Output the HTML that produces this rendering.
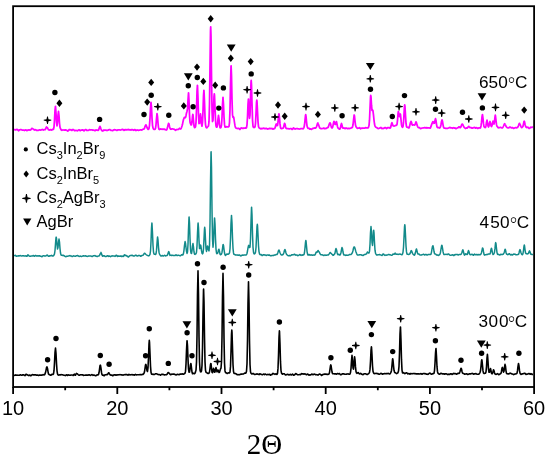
<!DOCTYPE html>
<html><head><meta charset="utf-8"><title>XRD</title>
<style>
html,body{margin:0;padding:0;background:#fff;}
body{width:550px;height:462px;overflow:hidden;}
svg{display:block;}
.s{font-family:"Liberation Sans",Arial,sans-serif;}
.r{font-family:"Liberation Serif","Times New Roman",serif;}
</style></head><body>
<svg width="550" height="462" viewBox="0 0 550 462">
<rect width="550" height="462" fill="#fff"/>
<polyline points="14.0,130.2 14.5,129.6 15.0,129.7 15.5,129.8 16.0,129.8 16.5,129.6 17.0,129.4 17.5,129.5 18.0,130.2 18.5,130.8 19.0,130.5 19.5,129.9 20.0,129.8 20.5,129.6 21.0,129.6 21.5,129.8 22.0,130.1 22.5,130.1 23.0,130.2 23.5,130.1 24.0,130.2 24.5,130.5 25.0,130.3 25.5,129.9 26.0,130.0 26.5,130.4 27.0,130.6 27.5,130.2 28.0,130.0 28.5,130.1 29.0,129.8 29.5,129.9 30.0,130.2 30.5,130.0 31.0,129.6 31.5,128.8 32.0,128.3 32.5,128.8 33.0,129.0 33.5,129.1 34.0,129.8 34.5,130.1 35.0,129.8 35.5,129.7 36.0,129.9 36.5,130.2 37.0,130.5 37.5,130.4 38.0,130.3 38.5,130.3 39.0,130.0 39.5,129.8 40.0,130.1 40.5,130.2 41.0,129.9 41.5,129.8 42.0,129.6 42.5,129.5 43.0,129.9 43.5,130.0 44.0,129.6 44.5,129.6 45.0,129.7 45.5,129.3 46.0,128.0 46.5,127.0 46.8,127.4 47.0,127.4 47.5,127.8 48.0,128.9 48.5,129.7 49.0,130.0 49.5,130.1 50.0,129.8 50.5,129.7 51.0,129.8 51.5,130.1 52.0,129.9 52.5,129.3 53.0,129.2 53.5,129.3 54.0,127.0 54.5,120.1 55.0,110.5 55.4,106.5 55.5,106.4 56.0,113.1 56.5,122.3 57.0,125.9 57.5,122.4 58.0,115.2 58.5,111.4 59.0,115.9 59.5,123.3 60.0,127.3 60.5,128.7 61.0,129.6 61.5,130.2 62.0,130.3 62.5,130.0 63.0,129.9 63.5,130.0 64.0,130.1 64.5,130.1 65.0,129.9 65.5,129.9 66.0,130.1 66.5,130.2 67.0,130.5 67.5,131.0 68.0,131.0 68.5,130.4 69.0,129.7 69.5,129.6 70.0,129.9 70.5,129.8 71.0,129.7 71.5,130.3 72.0,130.4 72.5,129.8 73.0,129.5 73.5,129.8 74.0,130.1 74.5,130.6 75.0,130.7 75.5,130.5 76.0,130.3 76.5,130.5 77.0,130.7 77.5,130.8 78.0,130.5 78.5,130.0 79.0,129.8 79.5,130.1 80.0,130.5 80.5,130.5 81.0,130.1 81.5,130.0 82.0,130.1 82.5,129.9 83.0,129.9 83.5,130.5 84.0,130.9 84.5,130.3 85.0,129.8 85.5,129.6 86.0,129.7 86.5,130.2 87.0,130.5 87.5,130.3 88.0,130.3 88.5,130.3 89.0,130.0 89.5,129.7 90.0,129.8 90.5,130.0 91.0,129.9 91.5,129.8 92.0,129.8 92.5,130.1 93.0,130.3 93.5,130.1 94.0,130.2 94.5,130.4 95.0,130.7 95.5,130.4 96.0,129.9 96.5,130.0 97.0,130.1 97.5,130.2 98.0,130.4 98.5,130.2 99.0,128.9 99.5,127.3 99.9,126.7 100.0,126.4 100.5,127.5 101.0,129.1 101.5,130.1 102.0,130.7 102.5,131.0 103.0,130.9 103.5,130.4 104.0,130.0 104.5,130.2 105.0,130.3 105.5,130.1 106.0,130.1 106.5,130.4 107.0,130.5 107.5,130.3 108.0,130.2 108.5,129.9 109.0,129.7 109.5,129.6 110.0,129.7 110.5,130.1 111.0,130.4 111.5,130.4 112.0,130.5 112.5,130.7 113.0,130.4 113.5,130.1 114.0,129.8 114.5,129.7 115.0,129.8 115.5,129.8 116.0,130.0 116.5,130.3 117.0,130.4 117.5,130.1 118.0,129.9 118.5,129.9 119.0,129.9 119.5,129.9 120.0,130.0 120.5,130.0 121.0,129.8 121.5,129.7 122.0,129.6 122.5,129.4 123.0,129.5 123.5,129.8 124.0,130.3 124.5,130.2 125.0,129.6 125.5,129.7 126.0,129.8 126.5,129.7 127.0,129.9 127.5,129.7 128.0,129.4 128.5,129.6 129.0,129.9 129.5,129.8 130.0,129.7 130.5,130.0 131.0,130.1 131.5,129.6 132.0,129.6 132.5,129.7 133.0,130.0 133.5,130.3 134.0,130.1 134.5,129.5 135.0,129.5 135.5,130.1 136.0,130.5 136.5,130.2 137.0,129.9 137.5,130.0 138.0,130.2 138.5,130.4 139.0,130.1 139.5,130.0 140.0,130.0 140.5,129.8 141.0,129.8 141.5,130.1 142.0,129.9 142.5,129.6 143.0,129.3 143.5,129.1 144.0,129.0 144.5,128.2 145.0,126.6 145.5,125.4 145.8,124.9 146.0,124.9 146.5,126.0 147.0,127.5 147.5,128.5 148.0,129.3 148.5,129.4 149.0,128.4 149.5,125.3 150.0,118.3 150.5,108.1 151.0,102.3 151.5,107.4 152.0,118.0 152.5,125.3 153.0,127.9 153.5,129.0 154.0,129.4 154.5,129.3 155.0,129.4 155.5,128.4 156.0,124.8 156.5,118.5 157.0,113.6 157.1,113.8 157.5,116.6 158.0,123.0 158.5,127.6 159.0,129.3 159.5,129.6 160.0,129.3 160.5,128.8 161.0,129.1 161.5,129.3 162.0,129.1 162.5,129.1 163.0,129.4 163.5,129.2 164.0,128.9 164.5,129.2 165.0,129.6 165.5,129.6 166.0,129.9 166.5,130.0 167.0,129.2 167.5,127.6 168.0,125.2 168.5,123.4 168.7,123.5 169.0,124.0 169.5,126.4 170.0,128.3 170.5,129.1 171.0,129.3 171.5,129.1 172.0,128.8 172.5,128.8 173.0,129.0 173.5,129.0 174.0,129.1 174.5,129.5 175.0,129.9 175.5,130.3 176.0,130.0 176.5,129.5 177.0,129.6 177.5,129.5 178.0,129.3 178.5,129.4 179.0,128.8 179.5,128.3 180.0,128.8 180.5,129.0 181.0,128.7 181.5,127.5 182.0,126.0 182.5,124.3 183.0,121.7 183.5,119.5 184.0,118.2 184.3,117.6 184.5,117.3 185.0,117.8 185.5,117.6 186.0,115.7 186.5,113.0 187.0,111.4 187.5,108.9 188.0,100.2 188.5,92.8 188.6,93.2 189.0,100.5 189.5,114.8 190.0,122.1 190.4,123.6 190.5,123.6 191.0,124.8 191.5,124.8 192.0,121.5 192.5,116.2 192.8,114.4 193.0,114.7 193.5,120.5 194.0,125.9 194.5,127.6 195.0,127.5 195.5,126.8 196.0,122.5 196.5,109.7 197.0,91.8 197.4,85.3 197.5,85.7 198.0,98.3 198.5,115.2 199.0,123.6 199.5,123.3 200.0,117.5 200.5,113.9 201.0,117.9 201.5,124.1 202.0,126.2 202.5,122.4 203.0,111.1 203.5,95.9 203.9,90.4 204.0,90.7 204.5,102.1 205.0,116.9 205.5,124.6 206.0,127.0 206.5,127.8 207.0,127.7 207.5,127.0 208.0,126.5 208.5,125.9 209.0,121.7 209.5,104.3 210.0,66.7 210.5,30.8 210.7,26.9 211.0,35.8 211.5,75.6 212.0,109.1 212.5,121.5 213.0,120.1 213.5,109.5 214.0,96.6 214.3,93.9 214.5,95.2 215.0,107.0 215.5,119.9 216.0,126.0 216.5,127.2 217.0,127.0 217.5,124.6 218.0,118.9 218.5,115.3 219.0,118.8 219.5,124.8 220.0,127.6 220.5,127.8 221.0,127.3 221.5,125.0 222.0,117.5 222.5,104.5 223.0,97.4 223.5,104.5 224.0,116.9 224.5,124.4 225.0,127.0 225.5,127.2 226.0,126.9 226.5,126.7 227.0,126.7 227.5,126.9 228.0,126.8 228.5,126.8 229.0,126.4 229.5,122.6 230.0,109.5 230.5,85.1 231.0,66.6 231.1,65.9 231.5,75.2 232.0,99.6 232.5,114.8 233.0,117.4 233.5,116.8 233.6,117.3 234.0,119.0 234.5,122.6 235.0,125.7 235.5,127.4 236.0,128.1 236.5,128.3 237.0,128.5 237.5,128.5 238.0,128.3 238.5,128.3 239.0,128.6 239.5,129.3 240.0,129.4 240.5,128.8 241.0,128.1 241.5,127.9 242.0,128.2 242.5,128.3 243.0,128.2 243.5,128.3 244.0,128.0 244.5,128.0 245.0,128.1 245.5,127.9 246.0,128.2 246.5,127.7 247.0,124.8 247.5,117.0 248.0,104.4 248.4,99.0 248.5,99.0 249.0,108.6 249.5,118.3 250.0,115.2 250.5,98.8 251.0,82.0 251.2,80.3 251.5,84.7 252.0,103.5 252.5,119.6 253.0,126.2 253.5,127.4 254.0,127.4 254.5,127.5 255.0,127.0 255.5,123.3 256.0,113.7 256.5,102.4 256.8,100.1 257.0,101.4 257.5,111.3 258.0,121.6 258.5,126.5 259.0,127.8 259.5,128.1 260.0,128.3 260.5,128.7 261.0,128.9 261.5,128.6 262.0,128.4 262.5,128.6 263.0,128.5 263.5,128.2 264.0,128.2 264.5,128.6 265.0,128.7 265.5,128.6 266.0,128.4 266.5,128.4 267.0,128.8 267.5,129.1 268.0,128.9 268.5,128.8 269.0,128.6 269.5,128.4 270.0,128.4 270.5,128.6 271.0,128.7 271.5,128.5 272.0,128.4 272.5,129.0 273.0,129.2 273.5,128.8 274.0,128.6 274.5,128.6 275.0,128.0 275.5,126.3 276.0,124.5 276.3,124.0 276.5,124.2 277.0,125.6 277.5,125.5 278.0,122.1 278.5,116.3 278.9,113.8 279.0,113.8 279.5,118.1 280.0,123.9 280.5,127.5 281.0,128.5 281.5,128.6 282.0,128.6 282.5,128.3 283.0,128.2 283.5,127.6 284.0,125.5 284.5,123.4 285.0,124.0 285.5,126.5 286.0,128.2 286.5,128.5 287.0,128.5 287.5,128.6 288.0,128.5 288.5,128.7 289.0,128.9 289.5,128.9 290.0,128.7 290.5,128.6 291.0,128.6 291.5,128.8 292.0,129.3 292.5,129.4 293.0,128.5 293.5,127.9 294.0,128.3 294.5,128.8 295.0,129.1 295.5,129.0 296.0,128.5 296.5,128.5 297.0,128.7 297.5,128.7 298.0,128.8 298.5,128.8 299.0,128.9 299.5,129.0 300.0,129.0 300.5,128.8 301.0,128.5 301.5,128.5 302.0,128.6 302.5,128.7 303.0,128.8 303.5,128.3 304.0,127.3 304.5,125.0 305.0,120.1 305.5,115.3 305.7,114.7 306.0,116.2 306.5,121.6 307.0,125.8 307.5,127.5 308.0,128.3 308.5,128.4 309.0,128.2 309.5,128.8 310.0,129.2 310.5,128.9 311.0,129.0 311.5,129.4 312.0,129.1 312.5,128.4 313.0,128.4 313.5,128.4 314.0,128.1 314.5,127.9 315.0,128.2 315.5,128.2 316.0,127.7 316.5,126.8 317.0,125.2 317.5,123.5 317.9,122.9 318.0,123.3 318.5,124.5 319.0,126.0 319.5,127.5 320.0,128.2 320.5,128.4 321.0,128.6 321.5,128.6 322.0,128.6 322.5,128.5 323.0,128.4 323.5,128.1 324.0,128.2 324.5,128.7 325.0,128.7 325.5,128.4 326.0,128.4 326.5,128.3 327.0,127.9 327.5,127.7 328.0,127.5 328.5,126.5 329.0,124.9 329.5,123.5 330.0,122.8 330.5,123.7 331.0,125.7 331.5,127.4 332.0,128.0 332.5,127.5 333.0,125.6 333.5,122.8 334.0,121.3 334.5,122.4 335.0,124.4 335.5,124.4 336.0,122.6 336.3,121.7 336.5,121.6 337.0,124.1 337.5,126.7 338.0,128.0 338.5,128.4 339.0,128.8 339.5,129.2 340.0,128.9 340.5,127.7 341.0,125.0 341.5,123.5 342.0,125.3 342.5,127.5 343.0,128.1 343.5,128.0 344.0,127.9 344.5,128.2 345.0,128.6 345.5,128.4 346.0,128.0 346.5,128.0 347.0,128.4 347.5,128.7 348.0,128.7 348.5,128.3 349.0,128.3 349.5,128.6 350.0,128.5 350.5,128.3 351.0,128.1 351.5,127.6 352.0,127.6 352.5,127.1 353.0,124.8 353.5,120.4 354.0,116.0 354.2,115.0 354.5,116.1 355.0,121.0 355.5,125.1 356.0,126.8 356.5,127.4 357.0,128.1 357.5,128.4 358.0,128.0 358.5,128.0 359.0,128.1 359.5,127.7 360.0,128.0 360.5,128.8 361.0,128.5 361.5,128.1 362.0,128.1 362.5,128.3 363.0,128.1 363.5,128.1 364.0,128.1 364.5,128.0 365.0,128.0 365.5,127.7 366.0,127.7 366.5,127.9 367.0,127.9 367.5,128.0 368.0,127.9 368.5,127.3 369.0,125.6 369.5,120.2 370.0,108.8 370.5,97.2 370.7,95.4 371.0,96.8 371.5,105.2 372.0,110.3 372.5,110.4 372.8,110.2 373.0,111.1 373.5,115.2 374.0,120.1 374.5,124.0 375.0,126.1 375.5,126.9 376.0,127.2 376.5,127.5 377.0,127.8 377.5,128.2 378.0,128.5 378.5,128.5 379.0,128.3 379.5,128.2 380.0,127.9 380.5,127.6 381.0,127.5 381.5,128.1 382.0,128.7 382.5,128.4 383.0,128.3 383.5,128.5 384.0,128.2 384.5,127.8 385.0,127.6 385.5,127.7 386.0,128.2 386.5,128.6 387.0,128.2 387.5,127.7 388.0,127.8 388.5,127.7 389.0,127.6 389.5,127.9 390.0,128.1 390.5,127.6 391.0,126.1 391.5,123.7 392.0,122.7 392.5,124.2 393.0,125.6 393.5,126.0 394.0,126.1 394.5,126.0 395.0,125.7 395.5,125.4 396.0,125.3 396.5,125.3 397.0,124.3 397.5,120.3 398.0,114.0 398.4,111.5 398.5,111.9 399.0,114.8 399.5,116.6 400.0,114.7 400.3,114.0 400.5,114.6 401.0,119.7 401.5,124.7 402.0,126.7 402.5,127.3 403.0,126.5 403.5,122.7 404.0,114.3 404.5,105.9 404.7,104.9 405.0,106.7 405.5,115.5 406.0,123.2 406.5,126.5 407.0,127.2 407.5,127.3 408.0,127.4 408.5,127.8 409.0,127.8 409.5,126.6 410.0,124.5 410.5,122.5 410.8,121.9 411.0,121.3 411.5,122.4 412.0,124.5 412.5,125.2 413.0,125.0 413.3,124.8 413.5,124.8 414.0,125.0 414.5,125.1 415.0,124.7 415.5,123.2 416.0,121.9 416.5,122.9 417.0,124.9 417.5,126.3 418.0,127.2 418.5,127.6 419.0,127.6 419.5,127.7 420.0,128.2 420.5,128.6 421.0,128.6 421.5,128.3 422.0,128.1 422.5,128.0 423.0,127.9 423.5,127.9 424.0,127.9 424.5,127.6 425.0,127.6 425.5,127.9 426.0,128.0 426.5,127.6 427.0,127.7 427.5,128.0 428.0,127.9 428.5,127.8 429.0,127.8 429.5,128.0 430.0,128.2 430.5,127.8 431.0,126.4 431.5,124.9 432.0,123.7 432.5,122.3 432.9,121.7 433.0,121.6 433.5,122.2 434.0,123.3 434.5,123.1 435.0,120.5 435.5,118.6 436.0,120.5 436.5,124.3 437.0,126.8 437.5,127.6 438.0,127.6 438.5,127.5 439.0,127.7 439.5,128.0 440.0,127.7 440.5,126.7 441.0,124.5 441.5,121.5 442.0,119.9 442.5,121.3 443.0,124.6 443.5,127.2 444.0,128.1 444.5,128.1 445.0,128.2 445.5,128.3 446.0,128.3 446.5,128.3 447.0,128.4 447.5,128.4 448.0,128.2 448.5,128.0 449.0,127.9 449.5,127.5 450.0,127.4 450.5,127.8 451.0,127.9 451.5,127.8 452.0,128.0 452.5,128.3 453.0,128.0 453.5,127.7 454.0,128.0 454.5,128.1 455.0,127.9 455.5,128.3 456.0,128.7 456.5,128.5 457.0,128.0 457.5,127.9 458.0,127.8 458.5,127.2 459.0,126.8 459.5,127.1 460.0,127.6 460.5,127.7 461.0,126.7 461.5,125.1 462.0,124.2 462.3,124.3 462.5,124.2 463.0,125.0 463.5,126.2 464.0,127.2 464.5,127.7 465.0,128.0 465.5,128.5 466.0,128.3 466.5,127.9 467.0,128.1 467.5,127.9 468.0,127.1 468.5,126.5 468.8,126.4 469.0,126.6 469.5,127.0 470.0,127.6 470.5,127.7 471.0,127.6 471.5,127.8 472.0,128.2 472.5,128.1 473.0,127.9 473.5,127.7 474.0,127.7 474.5,127.4 475.0,127.6 475.5,128.1 476.0,128.0 476.5,127.7 477.0,127.8 477.5,128.3 478.0,128.4 478.5,128.0 479.0,127.8 479.5,127.8 480.0,128.1 480.5,127.7 481.0,125.9 481.5,122.2 482.0,116.8 482.4,114.6 482.5,114.6 483.0,118.3 483.5,123.7 484.0,126.6 484.5,127.3 485.0,127.4 485.5,127.5 486.0,125.7 486.5,122.1 487.0,120.2 487.5,122.6 488.0,125.9 488.5,127.0 489.0,125.9 489.5,123.1 490.0,121.5 490.5,123.2 491.0,125.8 491.5,126.6 492.0,125.5 492.5,123.2 493.0,121.1 493.5,122.4 494.0,124.0 494.5,121.6 495.0,116.9 495.3,115.2 495.5,116.0 496.0,120.7 496.5,124.7 497.0,126.2 497.5,126.8 498.0,127.7 498.5,127.8 499.0,127.5 499.5,127.5 500.0,127.5 500.5,127.3 501.0,127.5 501.5,127.8 502.0,128.0 502.5,127.9 503.0,127.1 503.5,126.0 504.0,124.8 504.5,123.8 504.7,123.7 505.0,124.3 505.5,125.2 506.0,126.3 506.5,127.1 507.0,127.4 507.5,127.7 508.0,127.9 508.5,127.8 509.0,127.7 509.5,127.3 510.0,127.0 510.5,127.2 511.0,127.6 511.5,127.9 512.0,127.9 512.5,127.6 513.0,127.9 513.5,128.3 514.0,128.3 514.5,128.0 515.0,127.8 515.5,127.7 516.0,127.7 516.5,127.8 517.0,127.7 517.5,127.5 518.0,126.8 518.5,125.6 519.0,124.0 519.5,123.3 519.6,123.9 520.0,124.4 520.5,125.5 521.0,126.6 521.5,127.5 522.0,127.5 522.5,127.0 523.0,126.2 523.5,123.9 524.0,121.5 524.2,121.2 524.5,121.7 525.0,124.2 525.5,126.1 526.0,127.0 526.5,127.4 527.0,127.6 527.5,127.3 528.0,127.2 528.5,127.8 529.0,128.3 529.5,128.4 530.0,128.0 530.5,127.3 531.0,127.2 531.5,127.4 532.0,127.3 532.5,127.1 533.0,127.4" fill="none" stroke="#ff00ff" stroke-width="1.75" stroke-linejoin="round"/>
<polyline points="14.0,255.8 14.5,255.6 15.0,255.3 15.5,255.3 16.0,256.1 16.5,256.3 17.0,256.0 17.5,256.0 18.0,255.9 18.5,255.8 19.0,256.0 19.5,255.8 20.0,255.6 20.5,255.6 21.0,255.8 21.5,255.9 22.0,255.9 22.5,255.8 23.0,255.7 23.5,255.7 24.0,256.0 24.5,256.1 25.0,256.0 25.5,255.9 26.0,255.7 26.5,256.2 27.0,256.3 27.5,255.4 28.0,254.9 28.5,255.3 29.0,255.9 29.5,256.2 30.0,256.3 30.5,256.2 31.0,256.1 31.5,256.0 32.0,256.0 32.5,255.9 33.0,255.6 33.5,255.6 34.0,256.1 34.5,256.3 35.0,255.8 35.5,255.4 36.0,255.7 36.5,256.0 37.0,256.1 37.5,256.0 38.0,255.7 38.5,256.1 39.0,256.1 39.5,255.7 40.0,255.9 40.5,256.3 41.0,256.2 41.5,256.5 42.0,256.7 42.5,256.3 43.0,255.8 43.5,255.7 44.0,255.9 44.5,255.9 45.0,255.8 45.5,255.9 46.0,255.9 46.5,255.5 47.0,255.0 47.5,255.2 48.0,255.9 48.5,256.3 49.0,256.3 49.5,256.0 50.0,255.7 50.5,255.9 51.0,255.7 51.5,255.3 52.0,255.6 52.5,256.1 53.0,256.1 53.5,255.7 54.0,255.1 54.5,253.9 55.0,250.5 55.5,243.8 56.0,237.8 56.2,237.1 56.5,238.4 57.0,244.6 57.5,249.1 58.0,247.5 58.5,242.2 59.0,239.0 59.5,242.1 60.0,248.5 60.5,253.0 61.0,254.9 61.5,255.3 62.0,255.3 62.5,255.4 63.0,255.3 63.5,255.3 64.0,255.6 64.5,256.1 65.0,256.3 65.5,256.6 66.0,256.8 66.5,256.3 67.0,256.2 67.5,256.3 68.0,256.1 68.5,256.0 69.0,255.9 69.5,255.7 70.0,255.6 70.5,256.0 71.0,256.0 71.5,256.0 72.0,256.5 72.5,256.5 73.0,256.1 73.5,255.8 74.0,255.9 74.5,256.1 75.0,256.3 75.5,256.3 76.0,255.9 76.5,255.8 77.0,255.7 77.5,255.5 78.0,255.7 78.5,256.1 79.0,256.4 79.5,256.4 80.0,256.1 80.5,256.1 81.0,256.3 81.5,256.6 82.0,256.4 82.5,256.1 83.0,255.8 83.5,255.8 84.0,256.0 84.5,256.1 85.0,255.9 85.5,255.8 86.0,256.0 86.5,256.2 87.0,256.4 87.5,256.4 88.0,256.2 88.5,256.0 89.0,255.9 89.5,255.9 90.0,255.9 90.5,256.0 91.0,256.1 91.5,256.3 92.0,256.5 92.5,256.4 93.0,256.0 93.5,255.7 94.0,255.7 94.5,255.7 95.0,255.6 95.5,256.0 96.0,256.2 96.5,256.2 97.0,256.5 97.5,256.5 98.0,256.1 98.5,255.9 99.0,256.0 99.5,255.5 100.0,254.3 100.5,253.3 100.8,252.8 101.0,252.4 101.5,253.7 102.0,255.2 102.5,256.2 103.0,256.3 103.5,255.8 104.0,255.7 104.5,256.0 105.0,256.3 105.5,256.6 106.0,256.5 106.5,256.2 107.0,256.0 107.5,255.7 108.0,256.0 108.5,256.4 109.0,256.1 109.5,256.0 110.0,256.4 110.5,256.7 111.0,256.3 111.5,256.0 112.0,256.1 112.5,255.8 113.0,255.9 113.5,256.1 114.0,256.1 114.5,256.1 115.0,256.4 115.5,256.1 116.0,255.3 116.5,255.2 117.0,255.9 117.5,256.4 118.0,256.3 118.5,256.0 119.0,256.1 119.5,256.2 120.0,256.3 120.5,256.0 121.0,255.9 121.5,256.4 122.0,256.4 122.5,256.1 123.0,256.5 123.5,256.3 124.0,255.3 124.5,254.8 124.7,255.2 125.0,255.5 125.5,255.3 126.0,255.4 126.5,255.9 127.0,255.9 127.5,256.1 128.0,257.0 128.5,257.1 129.0,256.4 129.5,256.0 130.0,255.7 130.5,255.4 131.0,255.5 131.5,255.5 132.0,255.2 132.5,255.4 133.0,255.8 133.5,256.0 134.0,256.1 134.5,256.0 135.0,255.6 135.5,255.2 136.0,255.2 136.5,255.6 137.0,256.0 137.5,256.0 138.0,255.8 138.5,255.5 139.0,255.4 139.5,255.4 140.0,255.6 140.5,256.3 141.0,256.2 141.5,255.6 142.0,255.4 142.5,255.4 143.0,255.2 143.5,254.7 144.0,253.8 144.5,253.2 144.6,253.2 145.0,253.4 145.5,254.0 146.0,254.5 146.5,254.9 147.0,255.2 147.5,255.4 148.0,255.7 148.5,255.9 149.0,255.7 149.5,255.2 150.0,254.3 150.5,251.0 151.0,241.8 151.5,228.4 151.9,223.1 152.0,223.7 152.5,233.2 153.0,245.2 153.5,252.0 154.0,254.1 154.5,254.2 155.0,254.3 155.5,254.5 156.0,253.8 156.5,250.4 157.0,243.3 157.5,237.4 157.6,237.0 158.0,239.8 158.5,247.3 159.0,252.2 159.5,254.0 160.0,254.9 160.5,255.7 161.0,256.0 161.5,255.9 162.0,255.6 162.5,255.6 163.0,256.0 163.5,256.0 164.0,255.6 164.5,255.3 165.0,255.5 165.5,255.9 166.0,255.8 166.5,255.6 167.0,255.5 167.5,254.9 168.0,253.4 168.5,251.9 168.7,251.6 169.0,252.0 169.5,254.1 170.0,255.4 170.5,255.2 171.0,255.3 171.5,255.5 172.0,255.3 172.5,255.3 173.0,255.4 173.5,255.6 174.0,255.5 174.5,255.5 175.0,255.6 175.5,255.2 176.0,254.8 176.5,255.2 177.0,255.6 177.5,255.5 178.0,255.3 178.5,255.2 179.0,255.4 179.5,255.6 180.0,255.7 180.5,255.8 181.0,255.3 181.5,254.7 182.0,254.7 182.5,255.1 183.0,254.8 183.5,253.3 184.0,250.1 184.5,245.4 185.0,242.1 185.1,241.6 185.5,243.1 186.0,247.5 186.5,251.4 187.0,253.4 187.5,252.1 188.0,244.2 188.5,229.1 189.0,217.5 189.1,217.0 189.5,222.8 190.0,238.3 190.5,249.3 191.0,253.1 191.5,253.5 192.0,250.8 192.5,245.9 192.9,243.9 193.0,243.5 193.5,247.1 194.0,252.0 194.5,254.2 195.0,254.4 195.5,254.0 196.0,253.8 196.5,252.3 197.0,245.9 197.5,233.3 198.0,223.6 198.1,223.0 198.5,227.8 199.0,240.6 199.5,248.6 200.0,248.1 200.5,245.0 200.7,245.2 201.0,246.6 201.5,250.6 202.0,253.2 202.5,253.9 203.0,253.1 203.5,248.8 204.0,238.9 204.5,228.9 204.7,227.3 205.0,229.5 205.5,239.9 206.0,248.7 206.5,251.4 207.0,248.9 207.5,245.9 207.6,246.1 208.0,247.2 208.5,250.0 209.0,250.9 209.5,245.2 210.0,223.7 210.5,183.2 211.0,152.9 211.1,151.8 211.5,167.1 212.0,209.3 212.5,238.9 213.0,247.2 213.5,242.3 214.0,228.7 214.5,218.1 214.6,218.0 215.0,223.9 215.5,238.5 216.0,249.1 216.5,253.0 217.0,253.7 217.5,253.4 218.0,252.0 218.5,249.8 218.9,249.2 219.0,249.3 219.5,251.5 220.0,254.2 220.5,254.7 221.0,254.5 221.5,254.1 222.0,252.4 222.5,248.6 223.0,244.7 223.2,244.5 223.5,245.4 224.0,249.3 224.5,253.0 225.0,254.8 225.5,255.4 226.0,255.0 226.5,254.3 227.0,254.0 227.5,254.1 228.0,254.3 228.5,254.1 229.0,253.7 229.5,252.8 230.0,249.0 230.5,238.6 231.0,223.3 231.5,215.4 232.0,223.1 232.5,237.8 233.0,248.3 233.5,252.9 234.0,254.4 234.5,254.6 235.0,254.7 235.5,255.0 236.0,255.1 236.5,255.0 237.0,255.0 237.5,255.0 238.0,255.2 238.5,255.3 239.0,254.9 239.5,254.9 240.0,255.4 240.5,255.8 241.0,255.9 241.5,255.5 242.0,255.2 242.5,255.1 243.0,255.2 243.5,255.2 244.0,254.9 244.5,254.9 245.0,255.0 245.5,255.0 246.0,255.0 246.5,254.7 247.0,253.5 247.5,251.0 248.0,247.9 248.5,245.6 248.7,245.3 249.0,245.9 249.5,247.6 250.0,247.2 250.5,239.2 251.0,221.7 251.5,207.8 251.6,207.2 252.0,214.7 252.5,233.9 253.0,247.1 253.5,252.2 254.0,253.7 254.5,253.9 255.0,253.5 255.5,252.3 256.0,247.6 256.5,237.3 257.0,226.6 257.3,224.3 257.5,225.2 258.0,234.8 258.5,245.8 259.0,251.6 259.5,253.8 260.0,254.6 260.5,254.7 261.0,254.5 261.5,254.8 262.0,255.5 262.5,255.5 263.0,255.1 263.5,254.7 264.0,254.7 264.5,255.1 265.0,255.1 265.5,255.0 266.0,255.4 266.5,255.4 267.0,255.0 267.5,254.9 268.0,255.1 268.5,255.2 269.0,255.0 269.5,255.0 270.0,255.5 270.5,255.7 271.0,255.8 271.5,255.7 272.0,255.4 272.5,255.4 273.0,255.6 273.5,255.5 274.0,255.2 274.5,255.0 275.0,255.0 275.5,254.9 276.0,254.6 276.5,254.5 277.0,254.5 277.5,253.8 278.0,252.3 278.5,250.6 279.0,250.1 279.5,251.3 280.0,252.7 280.5,253.8 281.0,254.6 281.5,255.0 282.0,255.0 282.5,254.8 283.0,254.5 283.5,253.8 284.0,252.2 284.5,250.2 285.0,249.6 285.5,251.0 286.0,253.0 286.5,254.2 287.0,254.8 287.5,255.3 288.0,255.6 288.5,255.8 289.0,255.6 289.5,255.5 290.0,255.8 290.5,255.8 291.0,255.3 291.5,255.0 292.0,254.7 292.5,254.8 293.0,254.9 293.5,254.7 294.0,254.4 294.5,254.2 295.0,254.6 295.5,255.1 296.0,255.2 296.5,254.9 297.0,255.0 297.5,255.6 298.0,255.7 298.5,255.4 299.0,255.1 299.5,254.7 300.0,254.5 300.5,255.1 301.0,255.4 301.5,255.0 302.0,255.0 302.5,255.2 303.0,254.8 303.5,254.9 304.0,254.6 304.5,252.5 305.0,247.9 305.5,242.4 305.8,240.5 306.0,240.8 306.5,246.1 307.0,251.3 307.5,253.9 308.0,255.1 308.5,255.0 309.0,254.5 309.5,254.7 310.0,255.2 310.5,255.1 311.0,254.8 311.5,254.9 312.0,255.2 312.5,255.3 313.0,255.0 313.5,254.9 314.0,255.2 314.5,255.1 315.0,254.8 315.5,253.9 316.0,252.4 316.5,252.0 317.0,252.2 317.5,251.6 318.0,250.6 318.3,250.6 318.5,251.1 319.0,251.8 319.5,252.7 320.0,253.7 320.5,254.4 321.0,254.8 321.5,254.8 322.0,254.8 322.5,255.0 323.0,255.1 323.5,255.4 324.0,255.5 324.5,255.1 325.0,254.9 325.5,255.2 326.0,255.4 326.5,255.2 327.0,255.1 327.5,255.1 328.0,255.1 328.5,254.8 329.0,254.1 329.5,253.3 330.0,252.7 330.4,252.5 330.5,252.7 331.0,253.2 331.5,253.8 332.0,254.2 332.5,254.7 333.0,255.4 333.5,255.2 334.0,254.5 334.5,254.1 335.0,253.1 335.5,250.3 336.0,248.4 336.5,249.7 337.0,252.2 337.5,254.1 338.0,254.7 338.5,254.3 339.0,254.5 339.5,255.1 340.0,255.1 340.5,254.2 341.0,252.5 341.5,249.6 342.0,247.4 342.5,248.7 343.0,252.0 343.5,254.2 344.0,255.1 344.5,255.0 345.0,255.0 345.5,255.4 346.0,255.2 346.5,255.1 347.0,255.3 347.5,255.3 348.0,255.2 348.5,255.1 349.0,254.8 349.5,254.4 350.0,254.5 350.5,254.6 351.0,254.5 351.5,254.0 352.0,253.3 352.5,252.4 353.0,250.5 353.5,248.1 354.0,247.1 354.2,246.9 354.5,246.9 355.0,248.5 355.5,250.3 356.0,251.9 356.5,253.3 357.0,254.5 357.5,255.1 358.0,255.1 358.5,255.0 359.0,254.9 359.5,254.8 360.0,254.7 360.5,254.7 361.0,254.7 361.5,255.0 362.0,255.2 362.5,255.2 363.0,255.6 363.5,255.4 364.0,254.6 364.5,254.4 365.0,254.5 365.5,254.3 366.0,254.1 366.5,253.8 367.0,252.8 367.5,252.0 368.0,252.5 368.5,253.1 369.0,253.0 369.5,251.4 370.0,244.4 370.5,232.8 371.0,226.5 371.5,232.3 372.0,242.4 372.5,245.5 373.0,238.8 373.5,230.8 373.7,230.3 374.0,232.9 374.5,242.5 375.0,250.2 375.5,253.1 376.0,254.1 376.5,254.9 377.0,255.2 377.5,254.9 378.0,254.7 378.5,254.8 379.0,254.7 379.5,254.5 380.0,254.7 380.5,254.9 381.0,255.1 381.5,255.3 382.0,255.4 382.5,254.8 383.0,254.0 383.5,254.0 384.0,254.6 384.5,255.1 385.0,255.4 385.5,255.1 386.0,254.9 386.5,255.2 387.0,255.2 387.5,254.9 388.0,254.7 388.5,254.4 389.0,254.5 389.5,254.8 390.0,254.7 390.5,254.9 391.0,255.2 391.5,255.2 392.0,255.2 392.5,254.7 393.0,254.1 393.5,254.1 394.0,254.3 394.5,254.1 395.0,253.2 395.2,253.1 395.5,253.6 396.0,254.3 396.5,254.1 397.0,254.2 397.5,254.4 398.0,254.2 398.5,254.4 399.0,254.3 399.5,254.1 400.0,254.1 400.5,254.2 401.0,254.4 401.5,254.7 402.0,254.7 402.5,254.1 403.0,252.3 403.5,247.3 404.0,237.6 404.5,227.2 404.8,224.7 405.0,225.8 405.5,235.2 406.0,245.9 406.5,251.9 407.0,254.0 407.5,254.3 408.0,254.3 408.5,254.4 409.0,254.4 409.5,254.1 410.0,253.6 410.5,252.4 411.0,251.1 411.2,250.6 411.5,250.7 412.0,251.9 412.5,253.3 413.0,254.1 413.5,254.5 414.0,255.1 414.5,255.2 415.0,254.1 415.5,252.3 416.0,250.1 416.4,248.9 416.5,249.0 417.0,250.9 417.5,253.2 418.0,254.1 418.5,254.0 419.0,254.1 419.5,254.6 420.0,255.0 420.5,255.0 421.0,255.0 421.5,255.0 422.0,254.8 422.5,254.6 423.0,254.4 423.5,254.2 424.0,254.6 424.5,255.0 425.0,254.8 425.5,254.4 426.0,254.4 426.5,254.9 427.0,255.1 427.5,255.0 428.0,254.6 428.5,254.5 429.0,254.5 429.5,254.5 430.0,254.5 430.5,254.6 431.0,254.2 431.5,252.1 432.0,248.8 432.5,246.4 432.8,245.9 433.0,245.7 433.5,248.1 434.0,251.5 434.5,253.6 435.0,254.0 435.5,254.0 436.0,254.4 436.5,255.0 437.0,255.1 437.5,254.9 438.0,255.3 438.5,255.4 439.0,255.0 439.5,254.8 440.0,254.1 440.5,252.2 441.0,249.0 441.5,246.1 441.8,245.3 442.0,245.4 442.5,248.1 443.0,251.4 443.5,253.7 444.0,254.6 444.5,254.6 445.0,254.6 445.5,254.4 446.0,254.2 446.5,254.4 447.0,254.6 447.5,254.5 448.0,254.0 448.5,253.9 449.0,254.3 449.5,254.9 450.0,255.2 450.5,255.3 451.0,255.3 451.5,255.1 452.0,255.0 452.5,254.8 453.0,254.9 453.5,255.4 454.0,255.5 454.5,254.9 455.0,254.5 455.5,254.7 456.0,254.6 456.5,254.5 457.0,254.4 457.5,254.5 458.0,255.0 458.5,254.9 459.0,254.5 459.5,254.5 460.0,254.6 460.5,254.6 461.0,254.3 461.5,253.6 462.0,252.2 462.5,250.4 462.8,249.9 463.0,250.0 463.5,252.0 464.0,254.2 464.5,255.2 465.0,254.7 465.5,253.8 466.0,253.9 466.5,254.4 467.0,254.6 467.5,254.1 468.0,252.0 468.5,250.5 469.0,251.7 469.5,253.7 470.0,254.6 470.5,254.8 471.0,254.6 471.5,254.5 472.0,254.3 472.5,254.4 473.0,255.0 473.5,255.2 474.0,254.5 474.5,254.1 475.0,254.5 475.5,254.7 476.0,254.8 476.5,254.5 477.0,254.4 477.5,254.8 478.0,254.9 478.5,254.6 479.0,254.5 479.5,254.7 480.0,254.7 480.5,254.5 481.0,253.9 481.5,252.7 482.0,250.4 482.5,248.0 482.7,248.0 483.0,248.6 483.5,251.7 484.0,254.3 484.5,255.1 485.0,254.8 485.5,254.7 486.0,254.7 486.5,254.5 487.0,254.5 487.5,254.6 488.0,254.1 488.5,253.9 489.0,254.0 489.5,254.1 490.0,254.0 490.5,252.4 491.0,249.4 491.4,248.3 491.5,248.2 492.0,250.4 492.5,253.2 493.0,254.5 493.5,254.3 494.0,253.6 494.5,252.2 495.0,248.2 495.5,243.3 495.7,242.6 496.0,243.8 496.5,248.5 497.0,252.6 497.5,254.3 498.0,254.4 498.5,254.3 499.0,254.6 499.5,255.0 500.0,255.0 500.5,254.5 501.0,254.3 501.5,254.4 502.0,254.5 502.5,254.5 503.0,254.3 503.5,253.9 504.0,253.0 504.5,251.4 505.0,249.4 505.2,249.2 505.5,250.0 506.0,252.5 506.5,254.0 507.0,254.2 507.5,254.5 508.0,254.7 508.5,254.4 509.0,253.7 509.5,253.8 510.0,254.5 510.5,254.9 511.0,254.6 511.5,254.4 512.0,254.9 512.5,255.0 513.0,254.6 513.5,254.2 514.0,254.0 514.5,254.2 515.0,254.2 515.5,254.5 516.0,254.8 516.5,254.8 517.0,254.8 517.5,254.6 518.0,254.6 518.5,254.4 519.0,253.0 519.5,250.7 520.0,249.6 520.5,250.9 521.0,252.8 521.5,253.9 522.0,254.5 522.5,254.7 523.0,253.5 523.5,250.3 524.0,246.2 524.3,245.0 524.5,245.5 525.0,249.5 525.5,252.8 526.0,253.5 526.5,253.7 527.0,253.9 527.5,253.9 528.0,253.7 528.5,253.2 529.0,251.8 529.5,250.8 530.0,251.8 530.5,253.5 531.0,254.3 531.5,254.3 532.0,254.5 532.5,254.6 533.0,254.5" fill="none" stroke="#128a8a" stroke-width="1.5" stroke-linejoin="round"/>
<polyline points="14.0,375.3 14.5,375.4 15.0,375.1 15.5,374.9 16.0,375.2 16.5,375.3 17.0,375.1 17.5,375.2 18.0,375.3 18.5,375.2 19.0,375.2 19.5,375.2 20.0,374.9 20.5,374.9 21.0,375.0 21.5,375.2 22.0,375.2 22.5,374.9 23.0,374.8 23.5,374.9 24.0,375.0 24.5,375.2 25.0,375.6 25.5,375.2 26.0,374.2 26.5,374.2 27.0,374.7 27.5,375.0 28.0,375.1 28.5,375.5 29.0,375.6 29.5,375.0 30.0,375.1 30.5,375.7 31.0,375.7 31.5,375.3 32.0,374.8 32.5,374.6 33.0,374.9 33.5,375.0 34.0,374.7 34.5,374.7 35.0,374.9 35.5,374.8 36.0,375.0 36.5,375.1 37.0,375.0 37.5,375.0 38.0,375.3 38.5,375.5 39.0,375.2 39.5,375.0 40.0,375.1 40.5,375.2 41.0,375.1 41.5,375.0 42.0,375.1 42.5,375.0 43.0,374.6 43.5,374.7 44.0,374.9 44.5,374.8 45.0,374.0 45.5,372.6 46.0,370.3 46.5,367.7 46.9,366.9 47.0,366.9 47.5,368.4 48.0,371.6 48.5,374.0 49.0,374.5 49.5,374.6 50.0,375.0 50.5,375.2 51.0,375.1 51.5,374.6 52.0,374.3 52.5,374.4 53.0,374.4 53.5,373.9 54.0,370.7 54.5,362.9 55.0,352.7 55.5,348.0 56.0,353.3 56.5,363.4 57.0,370.8 57.5,373.9 58.0,374.8 58.5,375.1 59.0,375.0 59.5,374.9 60.0,375.0 60.5,374.9 61.0,374.5 61.5,374.7 62.0,374.8 62.5,374.7 63.0,374.9 63.5,375.1 64.0,375.2 64.5,375.3 65.0,375.4 65.5,375.6 66.0,375.3 66.5,374.7 67.0,374.8 67.5,375.4 68.0,375.2 68.5,374.9 69.0,375.0 69.5,375.2 70.0,375.3 70.5,375.3 71.0,375.0 71.5,375.0 72.0,375.0 72.5,375.0 73.0,375.4 73.5,375.4 74.0,374.5 74.5,374.2 75.0,375.0 75.5,375.2 76.0,374.0 76.5,373.4 76.7,373.7 77.0,373.6 77.5,373.9 78.0,374.5 78.5,375.0 79.0,375.1 79.5,375.1 80.0,375.0 80.5,374.8 81.0,374.8 81.5,374.8 82.0,374.9 82.5,374.7 83.0,374.9 83.5,375.4 84.0,375.3 84.5,375.2 85.0,375.2 85.5,375.1 86.0,375.1 86.5,375.3 87.0,375.1 87.5,375.0 88.0,375.1 88.5,375.0 89.0,374.7 89.5,374.7 90.0,375.2 90.5,375.4 91.0,375.1 91.5,374.7 92.0,374.6 92.5,375.0 93.0,375.4 93.5,375.1 94.0,375.0 94.5,375.2 95.0,375.4 95.5,375.7 96.0,375.8 96.5,375.3 97.0,374.9 97.5,374.9 98.0,374.9 98.5,374.4 99.0,372.8 99.5,369.3 100.0,365.7 100.3,365.2 100.5,365.4 101.0,368.4 101.5,372.4 102.0,374.7 102.5,375.1 103.0,375.0 103.5,375.2 104.0,375.8 104.5,375.5 105.0,374.8 105.5,374.7 106.0,374.8 106.5,374.6 107.0,374.7 107.5,374.5 108.0,373.8 108.5,372.9 109.0,372.8 109.5,373.8 110.0,374.6 110.5,375.1 111.0,375.3 111.5,375.1 112.0,375.1 112.5,375.7 113.0,375.7 113.5,375.1 114.0,374.9 114.5,374.9 115.0,374.8 115.5,375.0 116.0,375.3 116.5,375.0 117.0,374.9 117.5,375.0 118.0,374.9 118.5,374.8 119.0,374.8 119.5,374.7 120.0,374.6 120.5,374.7 121.0,374.8 121.5,374.9 122.0,374.9 122.5,375.0 123.0,375.1 123.5,375.0 124.0,374.8 124.5,374.7 125.0,374.6 125.5,374.6 126.0,374.8 126.5,374.6 127.0,374.6 127.5,375.0 128.0,375.1 128.5,374.6 129.0,374.4 129.5,374.8 130.0,374.9 130.5,374.7 131.0,374.8 131.5,374.7 132.0,374.5 132.5,374.7 133.0,374.9 133.5,374.7 134.0,374.7 134.5,375.1 135.0,374.7 135.5,374.4 136.0,374.8 136.5,374.9 137.0,374.8 137.5,374.8 138.0,374.8 138.5,374.8 139.0,374.7 139.5,374.8 140.0,374.6 140.5,374.5 141.0,374.7 141.5,374.8 142.0,374.5 142.5,374.4 143.0,374.4 143.5,373.9 144.0,373.3 144.5,371.8 145.0,368.4 145.5,364.9 145.8,364.4 146.0,364.7 146.5,367.4 147.0,370.7 147.5,371.5 148.0,367.7 148.5,357.3 149.0,343.7 149.3,340.4 149.5,342.1 150.0,353.9 150.5,366.1 151.0,372.3 151.5,374.1 152.0,374.1 152.5,374.2 153.0,374.4 153.5,374.3 154.0,374.5 154.5,374.5 155.0,374.1 155.5,373.8 156.0,373.8 156.5,373.8 157.0,374.0 157.5,374.2 158.0,374.4 158.5,374.6 159.0,374.5 159.5,374.5 160.0,374.9 160.5,375.2 161.0,374.7 161.5,374.4 162.0,374.4 162.5,374.4 163.0,374.4 163.5,374.5 164.0,374.7 164.5,375.0 165.0,374.8 165.5,374.8 166.0,374.8 166.5,374.7 167.0,374.4 167.5,373.5 168.0,372.6 168.3,372.6 168.5,372.6 169.0,373.0 169.5,373.6 170.0,374.1 170.5,374.6 171.0,374.6 171.5,374.2 172.0,374.1 172.5,374.3 173.0,374.3 173.5,374.1 174.0,374.1 174.5,374.3 175.0,374.5 175.5,374.8 176.0,374.9 176.5,374.7 177.0,374.4 177.5,374.2 178.0,374.4 178.5,374.6 179.0,374.8 179.5,374.6 180.0,374.0 180.5,374.0 181.0,374.1 181.5,374.1 182.0,373.9 182.5,373.9 183.0,374.2 183.5,374.3 184.0,374.0 184.5,373.5 185.0,373.2 185.5,371.4 186.0,364.1 186.5,350.6 187.0,340.8 187.1,340.8 187.5,345.8 188.0,359.4 188.5,369.0 189.0,372.2 189.5,372.0 190.0,369.0 190.5,364.7 190.8,363.6 191.0,363.8 191.5,368.0 192.0,372.1 192.5,373.7 193.0,373.6 193.5,373.2 194.0,373.4 194.5,373.7 195.0,373.2 195.5,371.9 196.0,370.1 196.5,362.1 197.0,336.1 197.5,293.8 198.0,270.9 198.5,294.4 199.0,336.2 199.5,361.7 200.0,370.0 200.5,371.8 201.0,371.9 201.5,370.8 202.0,365.6 202.5,348.1 203.0,315.1 203.5,290.0 203.6,289.0 204.0,301.8 204.5,336.8 205.0,361.6 205.5,370.2 206.0,372.2 206.5,372.6 207.0,372.7 207.5,373.2 208.0,373.4 208.5,373.4 209.0,373.3 209.5,372.0 210.0,368.6 210.5,364.5 210.8,363.6 211.0,363.7 211.5,368.2 212.0,372.2 212.5,372.7 213.0,370.6 213.5,368.4 214.0,369.7 214.5,372.2 215.0,372.0 215.5,369.3 216.0,367.6 216.5,369.8 217.0,371.9 217.5,370.9 218.0,370.0 218.5,371.1 219.0,372.4 219.5,372.2 220.0,370.5 220.5,369.0 221.0,368.2 221.5,361.7 222.0,337.4 222.5,296.2 223.0,273.4 223.5,296.6 224.0,337.8 224.5,362.7 225.0,370.9 225.5,372.6 226.0,372.7 226.5,373.0 227.0,373.4 227.5,373.4 228.0,373.0 228.5,372.9 229.0,373.0 229.5,372.9 230.0,372.0 230.5,366.4 231.0,351.7 231.5,334.3 231.8,330.1 232.0,332.1 232.5,348.1 233.0,364.5 233.5,371.6 234.0,373.2 234.5,373.5 235.0,373.5 235.5,373.6 236.0,373.8 236.5,374.3 237.0,374.6 237.5,374.6 238.0,374.7 238.5,374.8 239.0,374.6 239.5,374.7 240.0,374.5 240.5,374.2 241.0,374.1 241.5,374.1 242.0,374.0 242.5,374.0 243.0,374.1 243.5,373.9 244.0,373.6 244.5,373.3 245.0,373.1 245.5,373.2 246.0,372.9 246.5,371.2 247.0,363.8 247.5,340.8 248.0,302.7 248.5,281.7 249.0,303.1 249.5,341.1 250.0,364.2 250.5,371.8 251.0,373.2 251.5,373.7 252.0,374.0 252.5,373.8 253.0,373.5 253.5,373.6 254.0,374.1 254.5,374.5 255.0,374.4 255.5,374.2 256.0,374.2 256.5,374.1 257.0,373.8 257.5,374.1 258.0,374.2 258.5,374.3 259.0,374.6 259.5,374.1 260.0,373.7 260.5,374.1 261.0,374.4 261.5,374.4 262.0,374.6 262.5,374.7 263.0,374.4 263.5,374.0 264.0,374.3 264.5,374.6 265.0,374.2 265.5,374.0 266.0,374.4 266.5,374.7 267.0,374.7 267.5,374.5 268.0,374.4 268.5,374.6 269.0,374.5 269.5,374.3 270.0,374.9 270.5,375.2 271.0,374.5 271.5,374.5 272.0,374.6 272.5,373.9 273.0,373.4 273.5,373.6 274.0,373.9 274.5,374.1 275.0,374.4 275.5,374.1 276.0,373.8 276.5,374.2 277.0,374.4 277.5,373.3 278.0,368.4 278.5,355.6 279.0,337.6 279.4,330.8 279.5,331.3 280.0,344.6 280.5,361.9 281.0,370.7 281.5,373.0 282.0,373.8 282.5,374.2 283.0,373.9 283.5,373.8 284.0,373.8 284.5,373.9 285.0,374.6 285.5,375.0 286.0,374.9 286.5,374.6 287.0,374.5 287.5,374.4 288.0,374.4 288.5,374.8 289.0,375.0 289.5,374.8 290.0,374.5 290.5,374.4 291.0,374.7 291.5,375.0 292.0,374.6 292.5,374.1 293.0,374.6 293.5,375.2 294.0,375.1 294.5,374.9 295.0,374.4 295.5,373.8 296.0,373.6 296.5,373.9 297.0,374.4 297.5,374.7 298.0,374.7 298.5,374.7 299.0,374.7 299.5,374.5 300.0,374.5 300.5,374.6 301.0,374.1 301.5,373.5 302.0,373.9 302.5,374.0 303.0,373.7 303.5,374.0 304.0,374.2 304.5,373.9 305.0,373.9 305.5,374.1 306.0,374.5 306.5,374.8 307.0,374.6 307.5,374.0 308.0,374.2 308.5,374.8 309.0,375.2 309.5,374.9 310.0,374.9 310.5,375.0 311.0,374.7 311.5,374.2 312.0,374.0 312.5,374.4 313.0,374.8 313.5,374.4 314.0,374.1 314.5,374.1 315.0,374.4 315.5,374.7 316.0,374.6 316.5,374.7 317.0,374.8 317.5,374.9 318.0,375.1 318.5,374.8 319.0,374.3 319.5,374.1 320.0,374.1 320.5,374.4 321.0,374.8 321.5,375.4 322.0,375.2 322.5,374.5 323.0,374.5 323.5,374.5 324.0,374.0 324.5,374.1 325.0,374.4 325.5,374.1 326.0,374.0 326.5,374.2 327.0,374.4 327.5,374.4 328.0,374.4 328.5,374.3 329.0,373.9 329.5,372.5 330.0,369.2 330.5,365.7 330.8,364.9 331.0,365.3 331.5,368.5 332.0,372.0 332.5,373.6 333.0,373.7 333.5,373.7 334.0,373.8 334.5,373.9 335.0,373.8 335.5,373.7 336.0,374.0 336.5,374.2 337.0,373.8 337.5,373.6 338.0,373.6 338.5,373.9 339.0,373.8 339.5,373.6 340.0,374.2 340.5,374.8 341.0,374.7 341.5,374.5 342.0,374.1 342.5,373.7 343.0,374.0 343.5,373.9 344.0,373.8 344.5,374.2 345.0,374.3 345.5,374.2 346.0,374.2 346.5,374.1 347.0,374.0 347.5,374.0 348.0,373.9 348.5,374.0 349.0,374.2 349.5,374.3 350.0,373.9 350.5,372.5 351.0,368.6 351.5,360.8 352.0,355.4 352.5,360.3 353.0,368.0 353.5,369.1 354.0,363.0 354.5,357.1 354.6,356.8 355.0,359.6 355.5,366.9 356.0,371.5 356.5,373.0 357.0,373.4 357.5,373.1 358.0,372.6 358.5,372.8 359.0,373.6 359.5,373.9 360.0,373.7 360.5,373.4 361.0,373.5 361.5,374.1 362.0,374.2 362.5,374.5 363.0,374.7 363.5,374.2 364.0,373.9 364.5,373.8 365.0,373.7 365.5,373.8 366.0,374.0 366.5,374.2 367.0,374.4 367.5,374.4 368.0,374.0 368.5,373.8 369.0,373.2 369.5,372.3 370.0,369.4 370.5,361.6 371.0,350.7 371.4,346.8 371.5,347.0 372.0,355.0 372.5,365.7 373.0,371.2 373.5,372.8 374.0,373.5 374.5,373.6 375.0,373.5 375.5,373.5 376.0,373.4 376.5,373.4 377.0,373.6 377.5,373.5 378.0,373.6 378.5,374.1 379.0,374.3 379.5,374.3 380.0,373.9 380.5,373.5 381.0,373.4 381.5,373.5 382.0,374.0 382.5,374.3 383.0,374.0 383.5,373.7 384.0,373.7 384.5,373.6 385.0,373.5 385.5,373.7 386.0,373.8 386.5,373.6 387.0,373.6 387.5,373.6 388.0,373.4 388.5,373.5 389.0,373.8 389.5,374.0 390.0,373.9 390.5,373.1 391.0,372.2 391.5,370.4 392.0,365.3 392.5,359.6 392.7,358.8 393.0,360.1 393.5,365.6 394.0,370.3 394.5,372.1 395.0,372.6 395.5,372.7 396.0,373.2 396.5,373.6 397.0,373.4 397.5,373.1 398.0,372.6 398.5,371.1 399.0,366.3 399.5,353.2 400.0,334.3 400.4,327.1 400.5,327.1 401.0,341.1 401.5,359.9 402.0,370.1 402.5,372.9 403.0,372.9 403.5,372.5 404.0,372.9 404.5,373.5 405.0,373.6 405.5,373.3 406.0,373.1 406.5,372.7 407.0,372.9 407.5,373.7 408.0,373.9 408.5,373.6 409.0,373.5 409.5,374.0 410.0,374.1 410.5,373.6 411.0,373.5 411.5,373.7 412.0,373.8 412.5,373.8 413.0,373.6 413.5,373.5 414.0,373.5 414.5,373.6 415.0,373.6 415.5,373.8 416.0,373.9 416.5,373.7 417.0,373.8 417.5,374.0 418.0,373.8 418.5,373.8 419.0,374.0 419.5,374.0 420.0,373.9 420.5,373.7 421.0,373.5 421.5,373.9 422.0,374.3 422.5,373.9 423.0,373.5 423.5,373.5 424.0,373.6 424.5,373.6 425.0,373.6 425.5,373.7 426.0,374.0 426.5,374.1 427.0,374.1 427.5,374.3 428.0,374.4 428.5,374.1 429.0,373.5 429.5,373.3 430.0,373.1 430.5,373.4 431.0,374.0 431.5,374.2 432.0,374.1 432.5,373.7 433.0,373.6 433.5,373.6 434.0,373.3 434.5,370.6 435.0,363.3 435.5,353.3 435.9,348.9 436.0,348.6 436.5,356.5 437.0,366.7 437.5,371.7 438.0,373.2 438.5,373.8 439.0,374.0 439.5,374.3 440.0,374.1 440.5,373.4 441.0,373.2 441.5,373.4 442.0,373.7 442.5,373.9 443.0,373.8 443.5,373.7 444.0,374.1 444.5,374.1 445.0,373.7 445.5,373.7 446.0,373.9 446.5,373.9 447.0,374.1 447.5,374.5 448.0,374.6 448.5,374.2 449.0,374.1 449.5,374.5 450.0,374.2 450.5,373.8 451.0,373.7 451.5,374.0 452.0,374.5 452.5,374.3 453.0,373.7 453.5,373.4 454.0,373.7 454.5,373.6 455.0,373.5 455.5,373.8 456.0,373.9 456.5,374.2 457.0,374.1 457.5,373.5 458.0,373.4 458.5,373.4 459.0,373.5 459.5,373.1 460.0,371.5 460.5,369.7 461.0,368.3 461.5,369.0 462.0,371.5 462.5,373.1 463.0,373.4 463.5,373.5 464.0,373.7 464.5,374.1 465.0,374.1 465.5,374.0 466.0,374.0 466.5,373.7 467.0,373.9 467.5,374.4 468.0,374.4 468.5,374.3 469.0,374.1 469.5,373.8 470.0,373.8 470.5,373.9 471.0,373.7 471.5,373.6 472.0,373.4 472.5,373.5 473.0,373.8 473.5,374.2 474.0,374.0 474.5,373.7 475.0,373.9 475.5,373.8 476.0,373.5 476.5,373.9 477.0,374.2 477.5,374.2 478.0,374.3 478.5,374.3 479.0,374.1 479.5,373.5 480.0,372.5 480.5,370.8 481.0,366.4 481.5,360.9 481.8,359.8 482.0,360.5 482.5,365.6 483.0,370.9 483.5,373.0 484.0,373.5 484.5,373.5 485.0,373.3 485.5,373.2 486.0,371.9 486.5,366.8 487.0,358.0 487.4,354.4 487.5,354.7 488.0,361.4 488.5,369.1 489.0,372.3 489.5,372.3 490.0,369.9 490.5,368.5 491.0,370.7 491.5,373.2 492.0,373.8 492.5,373.4 493.0,371.6 493.5,369.7 494.0,370.6 494.5,372.8 495.0,373.9 495.5,374.3 496.0,374.4 496.5,374.3 497.0,373.9 497.5,373.6 498.0,373.9 498.5,374.6 499.0,374.6 499.5,374.2 500.0,373.9 500.5,373.7 501.0,373.2 501.5,371.2 502.0,368.2 502.4,367.4 502.5,367.8 503.0,369.9 503.5,372.1 504.0,371.1 504.5,367.2 505.0,364.4 505.5,366.3 506.0,370.8 506.5,373.4 507.0,373.7 507.5,373.8 508.0,374.0 508.5,373.9 509.0,373.9 509.5,373.5 510.0,373.1 510.5,373.2 511.0,373.4 511.5,373.8 512.0,374.0 512.5,374.0 513.0,374.2 513.5,374.6 514.0,374.4 514.5,374.1 515.0,374.1 515.5,373.9 516.0,373.7 516.5,373.8 517.0,373.2 517.5,370.7 518.0,366.3 518.5,363.5 519.0,366.0 519.5,370.7 520.0,373.2 520.5,374.0 521.0,374.4 521.5,374.3 522.0,373.8 522.5,373.7 523.0,373.9 523.5,373.6 524.0,373.4 524.5,373.4 525.0,373.4 525.5,373.9 526.0,374.4 526.5,374.2 527.0,374.0 527.5,374.1 528.0,373.9 528.5,373.6 529.0,373.6 529.5,373.8 530.0,374.2 530.5,374.1 531.0,373.6 531.5,373.9 532.0,374.4 532.5,374.4 533.0,374.4" fill="none" stroke="#000" stroke-width="1.6" stroke-linejoin="round"/>
<g fill="#000">
<circle cx="47.6" cy="359.8" r="2.7"/><circle cx="56.0" cy="338.5" r="2.7"/><circle cx="100.3" cy="355.5" r="2.7"/><circle cx="109.1" cy="364.2" r="2.7"/><circle cx="145.6" cy="355.7" r="2.7"/><circle cx="149.3" cy="328.8" r="2.7"/><circle cx="168.3" cy="363.4" r="2.7"/><circle cx="187.1" cy="332.8" r="2.7"/><circle cx="192.0" cy="355.8" r="2.7"/><circle cx="197.5" cy="263.8" r="2.7"/><circle cx="204.0" cy="282.5" r="2.7"/><circle cx="223.1" cy="267.3" r="2.7"/><circle cx="248.7" cy="275.0" r="2.7"/><circle cx="279.4" cy="322.0" r="2.7"/><circle cx="330.9" cy="357.7" r="2.7"/><circle cx="350.3" cy="350.2" r="2.7"/><circle cx="371.4" cy="334.6" r="2.7"/><circle cx="392.7" cy="351.6" r="2.7"/><circle cx="435.4" cy="340.7" r="2.7"/><circle cx="461.0" cy="360.3" r="2.7"/><circle cx="481.6" cy="353.3" r="2.7"/><circle cx="518.9" cy="353.3" r="2.7"/><circle cx="54.9" cy="92.5" r="2.7"/><circle cx="99.6" cy="119.4" r="2.7"/><circle cx="144.0" cy="114.5" r="2.7"/><circle cx="151.2" cy="95.2" r="2.7"/><circle cx="168.8" cy="115.3" r="2.7"/><circle cx="188.3" cy="85.7" r="2.7"/><circle cx="193.1" cy="106.8" r="2.7"/><circle cx="197.3" cy="77.5" r="2.7"/><circle cx="218.8" cy="108.1" r="2.7"/><circle cx="223.4" cy="87.9" r="2.7"/><circle cx="251.2" cy="73.9" r="2.7"/><circle cx="342.1" cy="115.7" r="2.7"/><circle cx="370.5" cy="89.2" r="2.7"/><circle cx="392.3" cy="116.5" r="2.7"/><circle cx="404.5" cy="95.6" r="2.7"/><circle cx="435.5" cy="109.2" r="2.7"/><circle cx="462.5" cy="112.2" r="2.7"/><circle cx="482.4" cy="107.9" r="2.7"/><path d="M59.4 99.5L62.4 103.2L59.4 106.9L56.4 103.2Z"/><path d="M147.2 98.4L150.2 102.1L147.2 105.8L144.2 102.1Z"/><path d="M151.2 78.7L154.2 82.4L151.2 86.1L148.2 82.4Z"/><path d="M183.8 102.2L186.8 105.9L183.8 109.6L180.8 105.9Z"/><path d="M197.0 63.4L200.0 67.1L197.0 70.8L194.0 67.1Z"/><path d="M203.3 77.7L206.3 81.4L203.3 85.1L200.3 81.4Z"/><path d="M210.7 15.1L213.7 18.8L210.7 22.5L207.7 18.8Z"/><path d="M215.2 81.6L218.2 85.3L215.2 89.0L212.2 85.3Z"/><path d="M230.8 54.6L233.8 58.3L230.8 62.0L227.8 58.3Z"/><path d="M250.7 57.9L253.7 61.6L250.7 65.3L247.7 61.6Z"/><path d="M278.0 101.3L281.0 105.0L278.0 108.7L275.0 105.0Z"/><path d="M284.7 112.5L287.7 116.2L284.7 119.9L281.7 116.2Z"/><path d="M317.9 110.7L320.9 114.4L317.9 118.1L314.9 114.4Z"/><path d="M524.2 106.4L527.2 110.1L524.2 113.8L521.2 110.1Z"/><path d="M182.5 321.3L191.3 321.3L186.9 328.5Z"/><path d="M227.9 309.2L236.7 309.2L232.3 316.4Z"/><path d="M367.4 321.0L376.2 321.0L371.8 328.2Z"/><path d="M476.9 340.5L485.7 340.5L481.3 347.7Z"/><path d="M183.9 73.2L192.7 73.2L188.3 80.4Z"/><path d="M226.8 44.6L235.6 44.6L231.2 51.8Z"/><path d="M365.9 62.9L374.7 62.9L370.3 70.1Z"/><path d="M477.6 93.3L486.4 93.3L482.0 100.5Z"/><path d="M211.60 351.50L212.40 351.50L213.00 354.30L215.80 354.90L215.80 355.70L213.00 356.30L212.40 359.10L211.60 359.10L211.00 356.30L208.20 355.70L208.20 354.90L211.00 354.30Z"/><path d="M217.10 357.70L217.90 357.70L218.50 360.50L221.30 361.10L221.30 361.90L218.50 362.50L217.90 365.30L217.10 365.30L216.50 362.50L213.70 361.90L213.70 361.10L216.50 360.50Z"/><path d="M231.90 318.70L232.70 318.70L233.30 321.50L236.10 322.10L236.10 322.90L233.30 323.50L232.70 326.30L231.90 326.30L231.30 323.50L228.50 322.90L228.50 322.10L231.30 321.50Z"/><path d="M248.30 260.90L249.10 260.90L249.70 263.70L252.50 264.30L252.50 265.10L249.70 265.70L249.10 268.50L248.30 268.50L247.70 265.70L244.90 265.10L244.90 264.30L247.70 263.70Z"/><path d="M355.40 341.70L356.20 341.70L356.80 344.50L359.60 345.10L359.60 345.90L356.80 346.50L356.20 349.30L355.40 349.30L354.80 346.50L352.00 345.90L352.00 345.10L354.80 344.50Z"/><path d="M400.30 314.90L401.10 314.90L401.70 317.70L404.50 318.30L404.50 319.10L401.70 319.70L401.10 322.50L400.30 322.50L399.70 319.70L396.90 319.10L396.90 318.30L399.70 317.70Z"/><path d="M435.50 323.90L436.30 323.90L436.90 326.70L439.70 327.30L439.70 328.10L436.90 328.70L436.30 331.50L435.50 331.50L434.90 328.70L432.10 328.10L432.10 327.30L434.90 326.70Z"/><path d="M486.90 341.30L487.70 341.30L488.30 344.10L491.10 344.70L491.10 345.50L488.30 346.10L487.70 348.90L486.90 348.90L486.30 346.10L483.50 345.50L483.50 344.70L486.30 344.10Z"/><path d="M504.30 353.00L505.10 353.00L505.70 355.80L508.50 356.40L508.50 357.20L505.70 357.80L505.10 360.60L504.30 360.60L503.70 357.80L500.90 357.20L500.90 356.40L503.70 355.80Z"/><path d="M369.90 75.00L370.70 75.00L371.30 77.80L374.10 78.40L374.10 79.20L371.30 79.80L370.70 82.60L369.90 82.60L369.30 79.80L366.50 79.20L366.50 78.40L369.30 77.80Z"/><path d="M47.10 116.40L47.90 116.40L48.50 119.20L51.30 119.80L51.30 120.60L48.50 121.20L47.90 124.00L47.10 124.00L46.50 121.20L43.70 120.60L43.70 119.80L46.50 119.20Z"/><path d="M157.40 102.90L158.20 102.90L158.80 105.70L161.60 106.30L161.60 107.10L158.80 107.70L158.20 110.50L157.40 110.50L156.80 107.70L154.00 107.10L154.00 106.30L156.80 105.70Z"/><path d="M246.70 85.90L247.50 85.90L248.10 88.70L250.90 89.30L250.90 90.10L248.10 90.70L247.50 93.50L246.70 93.50L246.10 90.70L243.30 90.10L243.30 89.30L246.10 88.70Z"/><path d="M257.10 89.20L257.90 89.20L258.50 92.00L261.30 92.60L261.30 93.40L258.50 94.00L257.90 96.80L257.10 96.80L256.50 94.00L253.70 93.40L253.70 92.60L256.50 92.00Z"/><path d="M274.60 113.20L275.40 113.20L276.00 116.00L278.80 116.60L278.80 117.40L276.00 118.00L275.40 120.80L274.60 120.80L274.00 118.00L271.20 117.40L271.20 116.60L274.00 116.00Z"/><path d="M305.60 102.80L306.40 102.80L307.00 105.60L309.80 106.20L309.80 107.00L307.00 107.60L306.40 110.40L305.60 110.40L305.00 107.60L302.20 107.00L302.20 106.20L305.00 105.60Z"/><path d="M334.40 104.10L335.20 104.10L335.80 106.90L338.60 107.50L338.60 108.30L335.80 108.90L335.20 111.70L334.40 111.70L333.80 108.90L331.00 108.30L331.00 107.50L333.80 106.90Z"/><path d="M354.70 104.00L355.50 104.00L356.10 106.80L358.90 107.40L358.90 108.20L356.10 108.80L355.50 111.60L354.70 111.60L354.10 108.80L351.30 108.20L351.30 107.40L354.10 106.80Z"/><path d="M398.70 102.80L399.50 102.80L400.10 105.60L402.90 106.20L402.90 107.00L400.10 107.60L399.50 110.40L398.70 110.40L398.10 107.60L395.30 107.00L395.30 106.20L398.10 105.60Z"/><path d="M415.60 108.00L416.40 108.00L417.00 110.80L419.80 111.40L419.80 112.20L417.00 112.80L416.40 115.60L415.60 115.60L415.00 112.80L412.20 112.20L412.20 111.40L415.00 110.80Z"/><path d="M435.30 96.30L436.10 96.30L436.70 99.10L439.50 99.70L439.50 100.50L436.70 101.10L436.10 103.90L435.30 103.90L434.70 101.10L431.90 100.50L431.90 99.70L434.70 99.10Z"/><path d="M441.30 109.30L442.10 109.30L442.70 112.10L445.50 112.70L445.50 113.50L442.70 114.10L442.10 116.90L441.30 116.90L440.70 114.10L437.90 113.50L437.90 112.70L440.70 112.10Z"/><path d="M468.40 115.20L469.20 115.20L469.80 118.00L472.60 118.60L472.60 119.40L469.80 120.00L469.20 122.80L468.40 122.80L467.80 120.00L465.00 119.40L465.00 118.60L467.80 118.00Z"/><path d="M495.10 103.60L495.90 103.60L496.50 106.40L499.30 107.00L499.30 107.80L496.50 108.40L495.90 111.20L495.10 111.20L494.50 108.40L491.70 107.80L491.70 107.00L494.50 106.40Z"/><path d="M505.30 111.50L506.10 111.50L506.70 114.30L509.50 114.90L509.50 115.70L506.70 116.30L506.10 119.10L505.30 119.10L504.70 116.30L501.90 115.70L501.90 114.90L504.70 114.30Z"/>
</g>
<rect x="13.10" y="6.20" width="521.00" height="380.80" fill="none" stroke="#000" stroke-width="1.8"/>
<path d="M13.10 387.00V394.00M65.20 387.00V390.30M117.30 387.00V394.00M169.40 387.00V390.30M221.50 387.00V394.00M273.60 387.00V390.30M325.70 387.00V394.00M377.80 387.00V390.30M429.90 387.00V394.00M482.00 387.00V390.30M534.10 387.00V394.00" stroke="#000" stroke-width="1.8" fill="none"/>
<g class="s" font-size="20" fill="#000">
<text x="13.1" y="415" text-anchor="middle">10</text><text x="117.3" y="415" text-anchor="middle">20</text><text x="221.5" y="415" text-anchor="middle">30</text><text x="325.7" y="415" text-anchor="middle">40</text><text x="429.9" y="415" text-anchor="middle">50</text><text x="534.1" y="415" text-anchor="middle">60</text>
</g>
<text class="r" x="264.5" y="454" font-size="29" text-anchor="middle">2&#920;</text>
<g class="s" font-size="16.5" fill="#000">
<text y="88.2" font-size="17.2"><tspan x="478.9 488.5 498.3">650</tspan><tspan x="506.6" dy="3.8" font-family="DejaVu Sans" font-weight="200" font-size="20">&#176;</tspan><tspan x="514.9" dy="-3.8">C</tspan></text>
<text y="228.2" font-size="17.2"><tspan x="479.4 490.2 500.1">450</tspan><tspan x="508.6" dy="3.8" font-family="DejaVu Sans" font-weight="200" font-size="20">&#176;</tspan><tspan x="516.7" dy="-3.8">C</tspan></text>
<text y="327.2" font-size="17.2"><tspan x="478.4 488.5 498.9">300</tspan><tspan x="506.6" dy="3.8" font-family="DejaVu Sans" font-weight="200" font-size="20">&#176;</tspan><tspan x="514.8" dy="-3.8">C</tspan></text>
</g>
<g class="s" font-size="16.5" fill="#000">
<circle cx="25.8" cy="149.4" r="2.1"/>
<text x="36.5" y="154.4">Cs<tspan font-size="11" dy="4.9">3</tspan><tspan dy="-4.9">In</tspan><tspan font-size="11" dy="4.9">2</tspan><tspan dy="-4.9">Br</tspan><tspan font-size="11" dy="4.9">9</tspan></text>
<path d="M26.2 170.4L28.9 173.9L26.2 177.4L23.5 173.9Z"/>
<text x="36.5" y="178.9">Cs<tspan font-size="11" dy="4.9">2</tspan><tspan dy="-4.9">InBr</tspan><tspan font-size="11" dy="4.9">5</tspan></text>
<path d="M26.00 194.10L26.90 194.10L27.55 197.30L30.75 197.95L30.75 198.85L27.55 199.50L26.90 202.70L26.00 202.70L25.35 199.50L22.15 198.85L22.15 197.95L25.35 197.30Z"/>
<text x="36.5" y="203.3">Cs<tspan font-size="11" dy="4.9">2</tspan><tspan dy="-4.9">AgBr</tspan><tspan font-size="11" dy="4.9">3</tspan></text>
<path d="M23.1 218.6L31.4 218.6L27.2 225.6Z"/>
<text x="36.5" y="227">AgBr</text>
</g>
</svg>
</body></html>
